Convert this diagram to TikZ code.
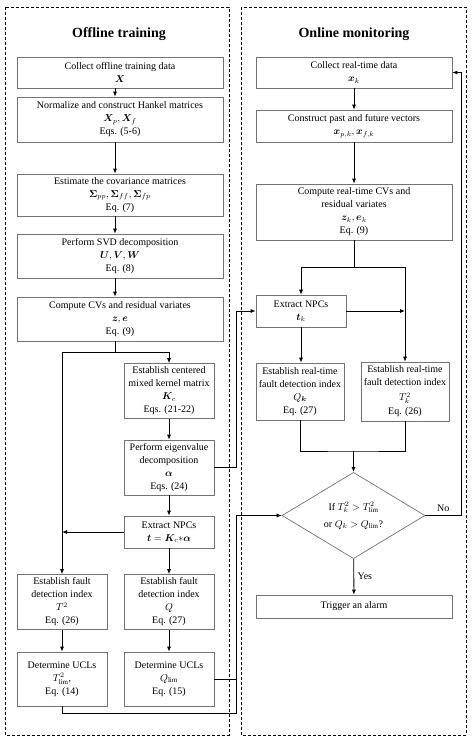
\documentclass[tikz,border=0pt]{standalone}
\usepackage{amsmath,bm}
\usepackage{fontspec}
\setmainfont{Liberation Serif}
\usetikzlibrary{arrows.meta,shapes.geometric}
\tikzset{
  box/.style={draw=black!55,line width=0.7pt,align=center,inner sep=1.5pt,font=\fontsize{10}{13}\selectfont},
  wide/.style={box,minimum width=206pt},
  wideR/.style={box,minimum width=196pt},
  narrow/.style={box,minimum width=90pt},
  narrowR/.style={box,minimum width=88pt},
  decision/.style={diamond,draw=black!55,line width=0.7pt,align=center,inner sep=0pt,minimum width=143pt,minimum height=65pt,font=\fontsize{10}{13}\selectfont},
  arr/.style={-{Latex[length=5pt,width=4pt]},line width=0.8pt},
  ln/.style={line width=0.8pt},
  frame/.style={line width=0.9pt,dash pattern=on 3pt off 2pt},
  title/.style={font=\fontsize{14}{16}\selectfont\bfseries}
}

\begin{document}
\begin{tikzpicture}[x=1pt,y=-1pt]
\useasboundingbox (0,0) rectangle (474,741);
% dashed frames
\draw[frame] (5,7) rectangle (229,735);
\draw[frame] (241,7) rectangle (466,735);
\node[title] (offT) at (119,34) {Offline training};
\node[title] (onT) at (354,34) {Online monitoring};

% offline training
\node[wide,minimum height=31pt] (L1) at (120,72.5) {Collect offline training data\\$\bm{X}$};
\node[wide,minimum height=45pt] (L2) at (120,119.5) {Normalize and construct Hankel matrices\\$\bm{X}_p,\bm{X}_f$\\Eqs. (5-6)};
\node[wide,minimum height=42pt] (L3) at (120,195) {Estimate the covariance matrices\\$\bm{\Sigma}_{pp},\bm{\Sigma}_{ff},\bm{\Sigma}_{fp}$\\Eq. (7)};
\node[wide,minimum height=44pt] (L4) at (120,256) {Perform SVD decomposition\\$\bm{U},\bm{V},\bm{W}$\\Eq. (8)};
\node[wide,minimum height=44pt] (L5) at (120,319) {Compute CVs and residual variates\\$\bm{z},\bm{e}$\\Eq. (9)};
\node[narrow,minimum height=55pt] (Kc) at (169,391) {Establish centered\\mixed kernel matrix\\$\bm{K}_c$\\Eqs. (21-22)};
\node[narrow,minimum height=55pt] (Eig) at (169,467.5) {Perform eigenvalue\\decomposition\\$\bm{\alpha}$\\Eqs. (24)};
\node[narrow,minimum height=32pt] (NPC) at (169,532) {Extract NPCs\\$\bm{t}=\bm{K}_c{*}\bm{\alpha}$};
\node[narrow,minimum height=55pt] (T2) at (62,602) {Establish fault\\detection index\\$T^2$\\Eq. (26)};
\node[narrow,minimum height=55pt] (Q) at (169,602) {Establish fault\\detection index\\$Q$\\Eq. (27)};
\node[narrow,minimum height=54pt] (UT) at (62,679) {Determine UCLs\\$T^2_{\mathrm{lim}}$,\\Eq. (14)};
\node[narrow,minimum height=54pt] (UQ) at (169,679) {Determine UCLs\\$Q_{\mathrm{lim}}$\\Eq. (15)};

% online monitoring
\node[wideR,minimum height=31pt] (R1) at (354,72.5) {Collect real-time data\\$\bm{x}_k$};
\node[wideR,minimum height=32pt] (R2) at (354,126) {Construct past and future vectors\\$\bm{x}_{p,k},\bm{x}_{f,k}$};
\node[wideR,minimum height=56pt] (R3) at (354,212) {Compute real-time CVs and\\residual variates\\$\bm{z}_k,\bm{e}_k$\\Eq. (9)};
\node[narrow,minimum height=32pt] (NPCk) at (301,311) {Extract NPCs\\$\bm{t}_k$};
\node[narrowR,minimum height=57pt] (Qk) at (300,391.5) {Establish real-time\\fault detection index\\$Q_{\bm{k}}$\\Eq. (27)};
\node[narrowR,minimum height=59pt] (T2k) at (405,391.5) {Establish real-time\\fault detection index\\[2pt]$T_k^2$\\[1pt]Eq. (26)};
\node[decision] (chk) at (353.5,515.5) {If $T_k^2>T^2_{\mathrm{lim}}$\\[4pt]or $Q_k>Q_{\mathrm{lim}}$?};
\node[wideR,minimum height=23pt] (alarm) at (354,606.5) {Trigger an alarm};

% connectors, offline
\coordinate (split) at (115,352);
\draw[arr] (L1.south -| split) -- (L2.north -| split);
\draw[arr] (L2.south -| split) -- (L3.north -| split);
\draw[arr] (L3.south -| split) -- (L4.north -| split);
\draw[arr] (L4.south -| split) -- (L5.north -| split);
\draw[ln] (L5.south -| split) -- (split);
\draw[arr] (split) -| (T2.north);
\draw[arr] (split) -| (Kc.north);
\draw[arr] (Kc) -- (Eig);
\draw[arr] (Eig) -- (NPC);
\draw[arr] (NPC.west) -- (NPC.west -| T2);
\draw[arr] (NPC) -- (Q);
\draw[arr] (T2) -- (UT);
\draw[arr] (Q) -- (UQ);

% links between the two parts
\coordinate (gap) at (236,713);
\draw[arr] (Eig.east) -- (Eig.east -| gap) |- (NPCk.west);
\draw[arr] (UT.south) |- (gap) |- (chk.west);
\draw[ln] (UQ.east) -- (UQ.east -| gap);

% connectors, online
\draw[arr] (R1) -- (R2);
\draw[arr] (R2) -- (R3);
\coordinate (splitR) at (354,267);
\draw[ln] (R3.south) -- (splitR);
\draw[arr] (splitR) -| (NPCk.north);
\draw[arr] (splitR) -| (T2k.north);
\draw[arr] (NPCk.east) -- (NPCk.east -| T2k);
\draw[arr] (NPCk.south) -- (NPCk.south |- Qk.north);
\coordinate (merge) at (353.5,451);
\draw[ln] (Qk.south) |- (merge) -| (T2k.south);
\draw[arr] (merge) -- (chk.north);
\coordinate (back) at (461,0);
\draw[arr] (chk.east) -- node[above] (no) {No} (chk.east -| back) |- (R1.east);
\draw[arr] (chk) -- node[right] (yes) {Yes} (alarm);
\end{tikzpicture}
\end{document}
